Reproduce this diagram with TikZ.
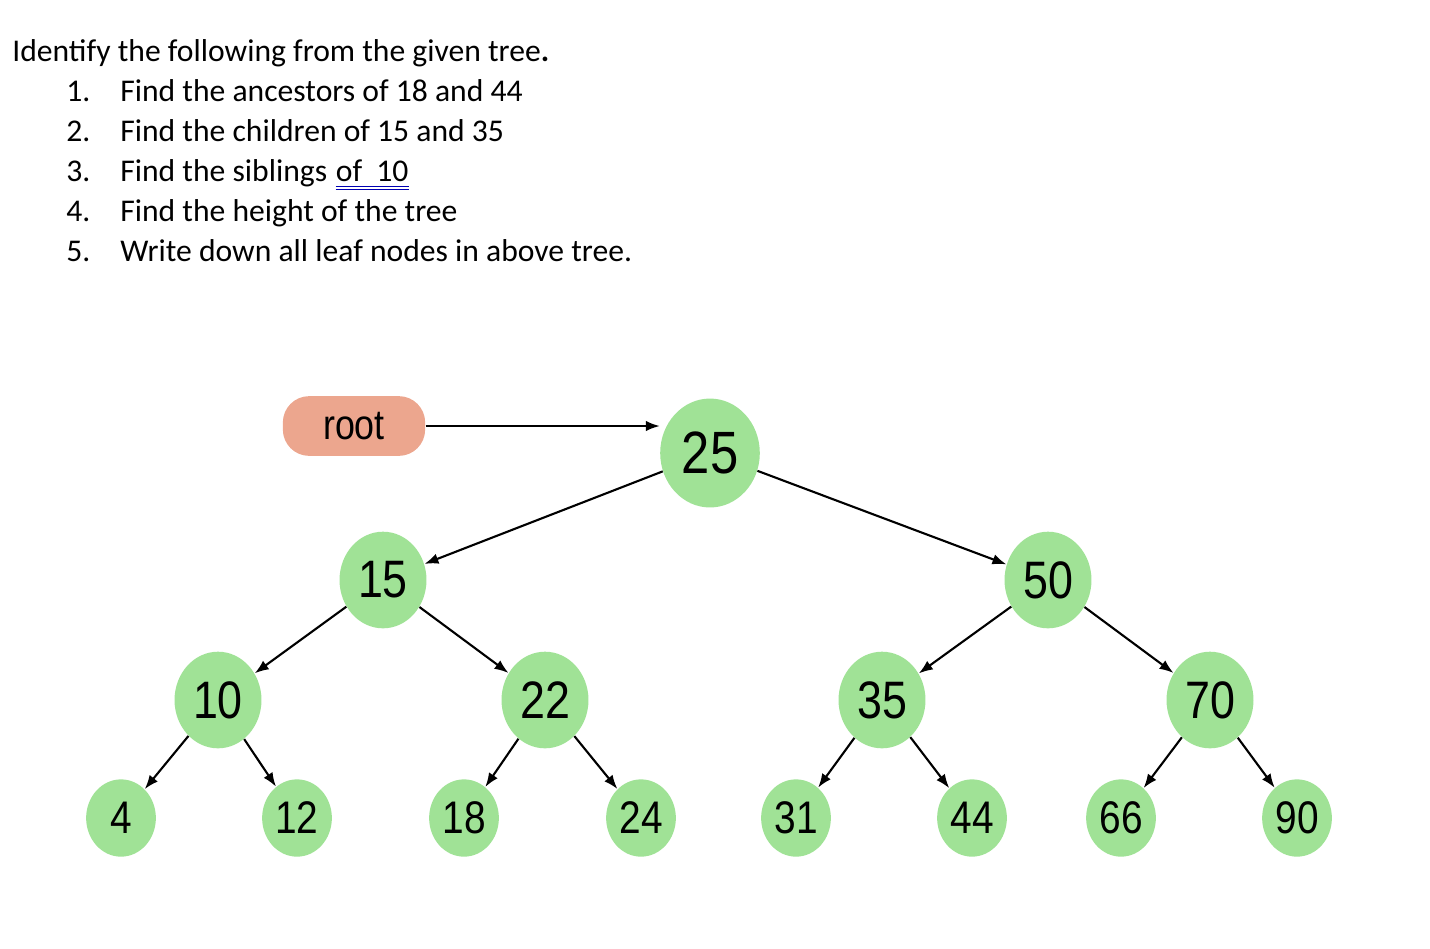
\documentclass[tikz,border=0pt]{standalone}
\usepackage{fontspec}
\setmainfont{Carlito}
\newfontfamily\nodefont{Liberation Sans}
\usetikzlibrary{shapes.geometric,arrows.meta}
\begin{document}
\begin{tikzpicture}[x=0.02cm,y=-0.02cm,
  txt/.style={anchor=base west,inner sep=0pt,font=\fontsize{18pt}{21pt}\selectfont},
  nd/.style={ellipse,fill=ngreen,inner sep=0pt},
  big/.style={nd,minimum width=56.7pt,minimum height=62pt,font=\nodefont\fontsize{34pt}{34pt}\selectfont\addfontfeature{FakeStretch=0.85}},
  mid/.style={nd,minimum width=49.5pt,minimum height=55pt,font=\nodefont\fontsize{30pt}{30pt}\selectfont\addfontfeature{FakeStretch=0.85}},
  leaf/.style={nd,minimum width=39.7pt,minimum height=44pt,font=\nodefont\fontsize{26pt}{26pt}\selectfont\addfontfeature{FakeStretch=0.85}},
  arr/.style={-{Latex[length=8pt,width=6pt]},line width=1.2pt}]
\definecolor{ngreen}{RGB}{160,226,150}
\definecolor{salmon}{RGB}{236,166,142}
\useasboundingbox (0,0) rectangle (1430,948);
\node[txt] (t0) at (12,61) {Identify the following from the given tree\textbf{.}};
\node[txt] (n1) at (66,101) {1.}; \node[txt] (l1) at (120,101) {Find the ancestors of 18 and 44};
\node[txt] (n2) at (66,141) {2.}; \node[txt] (l2) at (120,141) {Find the children of 15 and 35};
\node[txt] (n3) at (66,181) {3.}; \node[txt] (l3) at (120,181) {Find the siblings};
\node[txt] (l3b) at ([xshift=4.5pt]l3.base east) {of\ \ 10};
\draw[blue!70!black,line width=0.6pt] ([yshift=-3pt]l3b.base west) -- ([yshift=-3pt]l3b.base east)
  ([yshift=-5pt]l3b.base west) -- ([yshift=-5pt]l3b.base east);
\node[txt] (n4) at (66,221) {4.}; \node[txt] (l4) at (120,221) {Find the height of the tree};
\node[txt] (n5) at (66,261) {5.}; \node[txt] (l5) at (120,261) {Write down all leaf nodes in above tree.};
\node[fill=salmon,rounded corners=15pt,minimum width=81pt,minimum height=34pt,inner sep=0pt,
  font=\nodefont\fontsize{24pt}{24pt}\selectfont\addfontfeature{FakeStretch=0.85}] (root) at (354,426) {root};
\node[big] (a25) at (710,453) {25};
\node[mid] (a15) at (383,580) {15};
\node[mid] (a50) at (1048,580) {50};
\node[mid] (a10) at (218,700) {10};
\node[mid] (a22) at (545,700) {22};
\node[mid] (a35) at (882,700) {35};
\node[mid] (a70) at (1210,700) {70};
\node[leaf] (a4) at (121,818) {4};
\node[leaf] (a12) at (297,818) {12};
\node[leaf] (a18) at (464,818) {18};
\node[leaf] (a24) at (641,818) {24};
\node[leaf] (a31) at (796,818) {31};
\node[leaf] (a44) at (972,818) {44};
\node[leaf] (a66) at (1121,818) {66};
\node[leaf] (a90) at (1297,818) {90};
\draw[arr] (root.east) -- (root.east -| a25.west);
\foreach \p/\c in {a25/a15,a25/a50,a15/a10,a15/a22,a50/a35,a50/a70,a10/a4,a10/a12,a22/a18,a22/a24,a35/a31,a35/a44,a70/a66,a70/a90}
  \draw[arr] (\p) -- (\c);
\end{tikzpicture}
\end{document}
